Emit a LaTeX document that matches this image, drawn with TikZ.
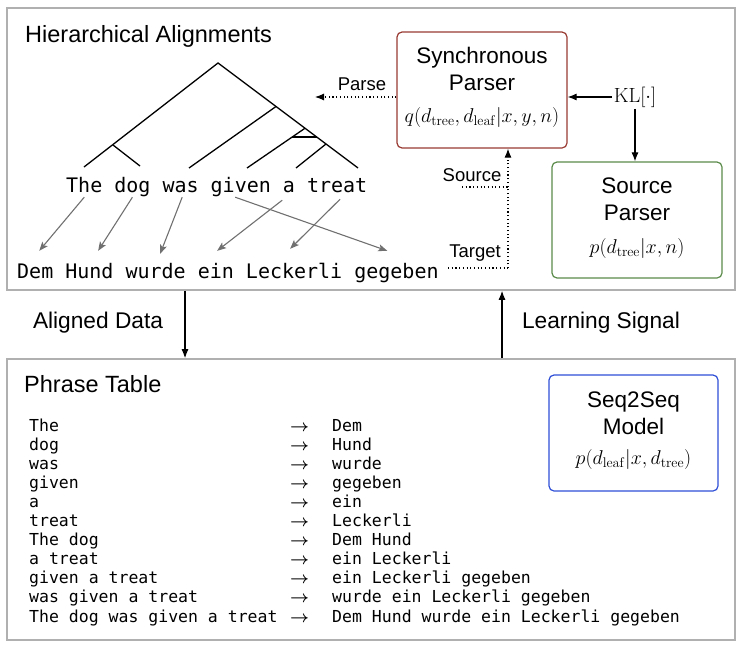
\RequirePackage{fix-cm}
\documentclass[tikz,border=0pt]{standalone}
\usepackage{amsmath}
\usepackage[no-math]{fontspec}
\setmainfont{Liberation Sans}
\newfontfamily\monof{DejaVu Sans Mono}
\usetikzlibrary{arrows.meta,calc}
\definecolor{panelgray}{HTML}{B0B0B0}
\definecolor{syncred}{HTML}{993A33}
\definecolor{srcgreen}{HTML}{5B8B4A}
\definecolor{seqblue}{HTML}{2E4FD6}
\definecolor{aligngray}{HTML}{707070}
\tikzset{
  panel/.style={draw=panelgray, line width=1.6pt, minimum width=728pt, minimum height=282pt, inner sep=0pt},
  modbox/.style={draw, rounded corners=5pt, line width=1.2pt, minimum width=170pt, minimum height=116pt, inner sep=0pt},
  boxtext/.style={align=center, inner sep=0pt, font=\fontsize{22.5}{27}\selectfont},
  lab/.style={inner sep=0pt, anchor=base, font=\fontsize{18.5}{22}\selectfont},
  big/.style={inner sep=0pt, anchor=base, font=\fontsize{22.7}{27}\selectfont},
  word/.style={inner sep=0pt, anchor=base west, text height=15pt, text depth=5pt, font=\monof\fontsize{20}{24}\selectfont},
  treeline/.style={line width=1.3pt},
  alignarr/.style={draw=aligngray, line width=1.1pt, -{Stealth[length=9pt,width=7pt,inset=2pt]}},
  arr/.style={line width=1.1pt, -{Latex[length=9pt,width=7pt]}},
  dots/.style={line width=1.1pt, dash pattern=on 1.1pt off 2.6pt},
  dotarr/.style={dots, -{Latex[length=9pt,width=7pt]}},
}
\newcommand{\fm}[1]{{\fontsize{20}{22}\selectfont$#1$}}
\newcommand{\tarr}{$\boldsymbol{\rightarrow}$}
\begin{document}
\begin{tikzpicture}[x=1pt,y=-1pt]
\useasboundingbox (0,0) rectangle (742,648);
% panels
\node[panel] (top) at (371,149) {};
\node[panel, minimum height=281pt] (bot) at (371,499.5) {};
\node[big, font=\fontsize{23.5}{27}\selectfont, anchor=base west] (ha) at (25,42) {Hierarchical Alignments};
\node[big, font=\fontsize{23.5}{27}\selectfont, anchor=base west] (pt) at (24,392) {Phrase Table};

% tree
\coordinate (root) at (218,63);
\coordinate (nL) at (113,145);
\coordinate (lThe) at (84,167);
\coordinate (lDog) at (140,166);
\coordinate (nR1) at (276,106.5);
\coordinate (lWas) at (189,168);
\coordinate (nR2) at (305,128.25);
\coordinate (lGiven) at (247,168);
\coordinate (barL) at (292,137);
\coordinate (barR) at (316.7,137);
\coordinate (nR3) at (326,144);
\coordinate (lA) at (296,168);
\coordinate (lTreat) at (358,168);
\draw[treeline] (lThe) -- (root) -- (lTreat);
\draw[treeline] (nL) -- (lDog);
\draw[treeline] (nR1) -- (lWas);
\draw[treeline] (nR2) -- (lGiven);
\draw[treeline] (barL) -- (barR);
\draw[treeline] (nR3) -- (lA);

% source words
\node[word] (The) at (66,192) {The};
\node[word] (dog) at (114.16,192) {dog};
\node[word] (was) at (162.32,192) {was};
\node[word] (given) at (210.48,192) {given};
\node[word] (a) at (282.72,192) {a};
\node[word] (treat) at (306.8,192) {treat};
% target words
\node[word] (Dem) at (17,278) {Dem};
\node[word] (Hund) at (65.16,278) {Hund};
\node[word] (wurde) at (125.36,278) {wurde};
\node[word] (ein) at (197.6,278) {ein};
\node[word] (Leckerli) at (245.76,278) {Leckerli};
\node[word] (gegeben) at (354.12,278) {gegeben};

% alignments
\draw[alignarr] (The.south) -- ([xshift=4pt,yshift=12pt]Dem.north);
\draw[alignarr] (dog.south) -- ([xshift=8.7pt,yshift=12pt]Hund.north);
\draw[alignarr] ([xshift=1.6pt]was.south) -- ([xshift=4.5pt,yshift=9pt]wurde.north);
\draw[alignarr] ([xshift=-5.6pt]given.south) -- ([xshift=-9.2pt,yshift=12pt]gegeben.north);
\draw[alignarr] ([xshift=-6.7pt,yshift=-3pt]a.south) -- ([xshift=1.3pt,yshift=12pt]ein.north);
\draw[alignarr] ([xshift=3pt,yshift=-2pt]treat.south) -- ([xshift=-4pt,yshift=14pt]Leckerli.north);

% model boxes
\node[modbox, draw=syncred] (sync) at (482,90) {};
\node[boxtext] (synct) at (482,87.5) {Synchronous\\Parser\\[5pt]\fm{q(d_{\mathrm{tree}}, d_{\mathrm{leaf}}|x,y,n)}};
\node[modbox, draw=srcgreen] (src) at (637,220) {};
\node[boxtext] (srct) at (637,218.5) {Source\\Parser\\[6pt]\fm{p(d_{\mathrm{tree}}|x,n)}};
\node[modbox, draw=seqblue, minimum width=169pt] (seq) at (633.5,433) {};
\node[boxtext] (seqt) at (633.5,430.5) {Seq2Seq\\Model\\[3pt]\fm{p(d_{\mathrm{leaf}}|x,d_{\mathrm{tree}})}};

% KL
\node[inner sep=1.5pt, font=\fontsize{20.5}{24}\selectfont] (KL) at (635,97) {$\mathrm{KL}[\cdot]$};
\draw[arr] (KL.west) -- (KL.west -| sync.east);
\draw[arr] (KL.south) -- (KL.south |- src.north);

% parse / source / target
\coordinate (pe) at (315,97);
\draw[dotarr] ([yshift=-7pt]sync.west) -- (pe);
\node[lab] (parse) at (362,90) {Parse};
\node[lab] (source) at (472,181) {Source};
\node[lab] (target) at (475,257) {Target};
\coordinate (ss) at (462,187);
\coordinate (ts) at (448,268);
\coordinate (jn) at (508,268);
\draw[dots] (ss) -- (ss -| jn);
\draw[dots] (ts) -- (jn);
\draw[dotarr] (jn) -- (jn |- sync.south);

% between panels
\draw[arr] ([xshift=-186pt]top.south) -- ([xshift=-186pt]bot.north);
\draw[arr] ([xshift=131pt]bot.north) -- ([xshift=131pt]top.south);
\node[big] (ad) at (98,328) {Aligned Data};
\node[big] (ls) at (601,328) {Learning Signal};

% phrase table
\node[inner sep=0pt, anchor=base west] (table) at (29,431) {\monof\fontsize{16.5}{19.1}\selectfont
\begin{tabular}[t]{@{}l@{\hspace{12.7pt}}c@{\hspace{23pt}}l@{}}
The & \tarr & Dem\\
dog & \tarr & Hund\\
was & \tarr & wurde\\
given & \tarr & gegeben\\
a & \tarr & ein\\
treat & \tarr & Leckerli\\
The dog & \tarr & Dem Hund\\
a treat & \tarr & ein Leckerli\\
given a treat & \tarr & ein Leckerli gegeben\\
was given a treat & \tarr & wurde ein Leckerli gegeben\\
The dog was given a treat & \tarr & Dem Hund wurde ein Leckerli gegeben
\end{tabular}};
\end{tikzpicture}
\end{document}
